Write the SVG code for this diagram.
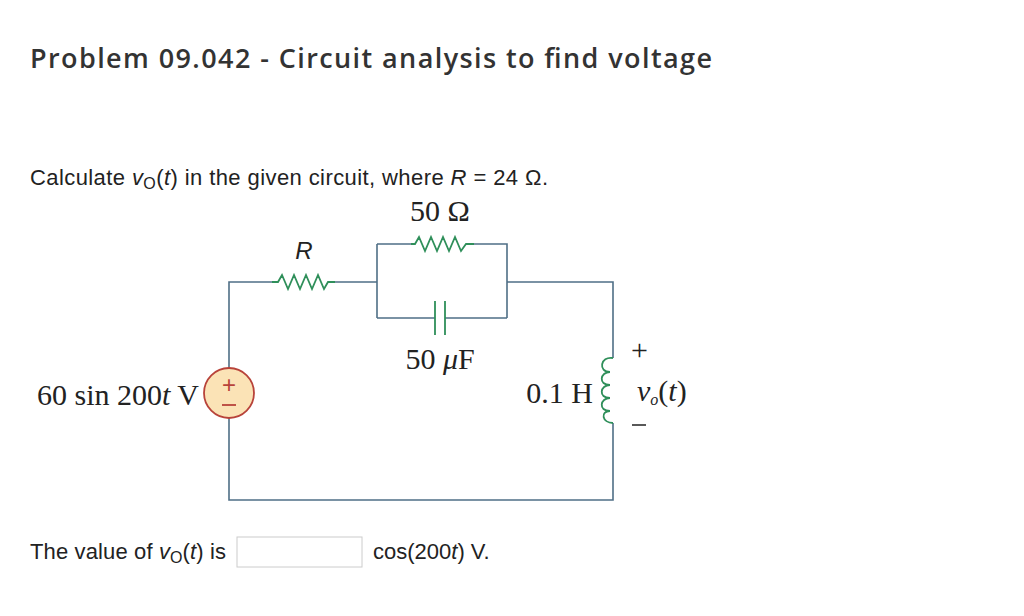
<svg xmlns="http://www.w3.org/2000/svg" width="1024" height="616" viewBox="0 0 1024 616">
<style>
.w{fill:none;stroke:#4f6f86;stroke-width:1.6}
.g{fill:none;stroke:#2f8f5a;stroke-width:1.8}
.s{font-family:"Liberation Sans",Arial,sans-serif;fill:#222}
.t{font-family:"Liberation Serif","Times New Roman",serif;fill:#222;font-size:30px}
</style>
<rect width="1024" height="616" fill="#fff"/>
<text x="30" y="68" font-family="Open Sans,Liberation Sans,sans-serif" font-weight="600" font-size="27" fill="#333" textLength="682">Problem 09.042 - Circuit analysis to find voltage</text>
<text class="s" x="30" y="185" font-size="22" textLength="518">Calculate <tspan font-style="italic">v</tspan><tspan font-size="16" dy="4">O</tspan><tspan dy="-4">(</tspan><tspan font-style="italic">t</tspan>) in the given circuit, where <tspan font-style="italic">R</tspan> = 24 Ω.</text>
<g id="connectors">
<path class="w" d="M229,368 V282 H272 M335,282 H377 M377,244 V318 M377,244 H411 M474,244 H507 V318 M377,318 H435 M445,318 H507 M507,282 H613 V358 M613,423 V500 H229 V418"/>
</g>
<g id="R"><path class="g" d="M272,282 L278,282 L282,275 L288,289 L294,275 L300,289 L306,275 L312,289 L318,275 L324,289 L328,282 L335,282"/>
<text x="304" y="259" font-family="Liberation Sans,Arial,sans-serif" font-style="italic" font-size="24" fill="#222" text-anchor="middle">R</text></g>
<g id="R50"><path class="g" d="M411,244 L415,244 L419,237 L425,251 L431,237 L437,251 L443,237 L449,251 L455,237 L461,251 L466,244 L474,244"/>
<text class="t" x="440" y="221" text-anchor="middle">50 Ω</text></g>
<g id="C"><path class="g" d="M435,301 V335 M445,301 V335"/>
<text class="t" x="440" y="369" text-anchor="middle">50 <tspan font-style="italic">μ</tspan>F</text></g>
<g id="L"><path class="g" d="M613,358 C600,356 598,372 610,372 C600,372 598,385 610,385 C600,385 598,398 610,398 C600,398 598,411 610,411 C600,411 602,423 613,423"/>
<text class="t" x="593" y="403" text-anchor="end">0.1 H</text>
<text class="t" x="631" y="360" font-size="26">+</text>
<text class="t" x="637" y="401" font-size="26"><tspan font-style="italic">v</tspan><tspan font-size="16" dy="4" font-style="italic">o</tspan><tspan dy="-4">(</tspan><tspan font-style="italic">t</tspan>)</text>
<path d="M632,425 H646" stroke="#222" stroke-width="1.5"/></g>
<g id="V"><circle cx="229" cy="393" r="25" fill="#fbe3b6" stroke="#b8433a" stroke-width="1.8"/>
<text x="229" y="393" fill="#b8433a" font-family="Liberation Sans,Arial,sans-serif" font-size="24" text-anchor="middle">+</text>
<path d="M222,405 H236" stroke="#b8433a" stroke-width="1.8"/>
<text class="t" x="199" y="405" text-anchor="end">60 sin 200<tspan font-style="italic">t</tspan> V</text></g>
<text class="s" x="30" y="559" font-size="22" textLength="196">The value of <tspan font-style="italic">v</tspan><tspan font-size="16" dy="4">O</tspan><tspan dy="-4">(</tspan><tspan font-style="italic">t</tspan>) is</text>
<rect x="237" y="537" width="125" height="30" fill="#fff" stroke="#ccc"/>
<text class="s" x="373" y="559" font-size="22">cos(200<tspan font-style="italic">t</tspan>) V.</text>
</svg>
